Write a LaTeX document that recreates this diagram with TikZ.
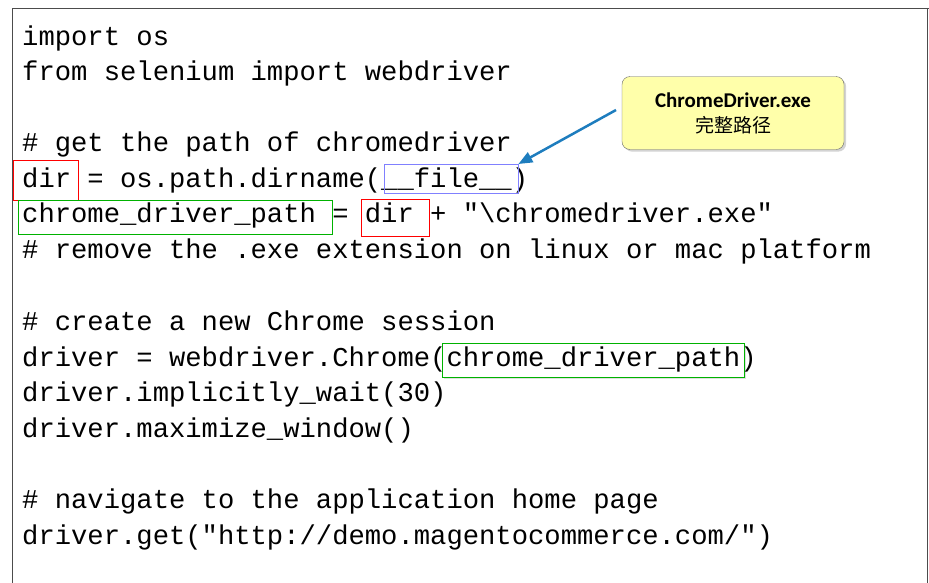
\documentclass[tikz,border=0pt]{standalone}
\usepackage{fontspec}
\setmonofont{Liberation Mono}
\setsansfont{Carlito}
\newfontfamily\cjk{Noto Sans CJK SC}
\usetikzlibrary{arrows.meta,shadows}
\definecolor{calloutfill}{RGB}{255,255,170}
\definecolor{arrowblue}{RGB}{30,125,190}
\begin{document}
\begin{tikzpicture}[x=1pt,y=-1pt]
        \tikzset{codeline/.style={anchor=base west, inner sep=0pt, font=\ttfamily\fontsize{27.2}{30}\selectfont}}
        \tikzset{hilite/.style={draw, thin, inner sep=0pt, anchor=north west}}
        \useasboundingbox (0,0) rectangle (929,582);
        \draw[black!70] (12,600) -- (12,8) -- (940,8);
        \draw[black!70] (927,8) -- (927,600);
        % shadowed mark goes under its line
        \node[hilite, green!70!black, minimum width=302pt, minimum height=34pt, drop shadow={opacity=0.25}, fill=white] (pathB) at (442,343) {};
        % code lines
        \node[codeline] (l1) at (22,45) {import os};
        \node[codeline] (l2) at (22,80) {from selenium import webdriver};
        \node[codeline] (l4) at (22,151) {\# get the path of chromedriver};
        \node[codeline] (l5) at (22,187) {dir = os.path.dirname(\_\_file\_\_)};
        \node[codeline] (l6) at (22,222) {chrome\_driver\_path = dir + "\textbackslash chromedriver.exe"};
        \node[codeline] (l7) at (22,258) {\# remove the .exe extension on linux or mac platform};
        \node[codeline] (l9) at (22,330) {\# create a new Chrome session};
        \node[codeline] (l10) at (22,366) {driver = webdriver.Chrome(chrome\_driver\_path)};
        \node[codeline] (l11) at (22,401) {driver.implicitly\_wait(30)};
        \node[codeline] (l12) at (22,437) {driver.maximize\_window()};
        \node[codeline] (l14) at (22,508) {\# navigate to the application home page};
        \node[codeline] (l15) at (22,544) {driver.get("http://demo.magentocommerce.com/")};
        % marks
        \node[hilite, red, minimum width=65pt, minimum height=40pt] (dirA) at (13,160) {};
        \node[hilite, blue!50, minimum width=134pt, minimum height=29pt] (file) at (384,164) {};
        \node[hilite, green!70!black, minimum width=314pt, minimum height=34pt] (pathA) at (18,200) {};
        \node[hilite, red, minimum width=68pt, minimum height=37pt] (dirB) at (361,199) {};
        % callout
        \node[draw=black!60, fill=calloutfill, rounded corners=8pt, minimum width=222pt, minimum height=73pt,
              drop shadow={opacity=0.35}, align=center, font=\sffamily\fontsize{21}{25}\selectfont] (note) at (733,113)
              {\textbf{ChromeDriver.exe}\\{\cjk\fontsize{19}{22}\selectfont 完整路径}};
        \draw[-{Triangle[length=14pt,width=11pt]}, arrowblue, line width=2.5pt] (616,110) -- (file.north east);
\end{tikzpicture}
\end{document}
